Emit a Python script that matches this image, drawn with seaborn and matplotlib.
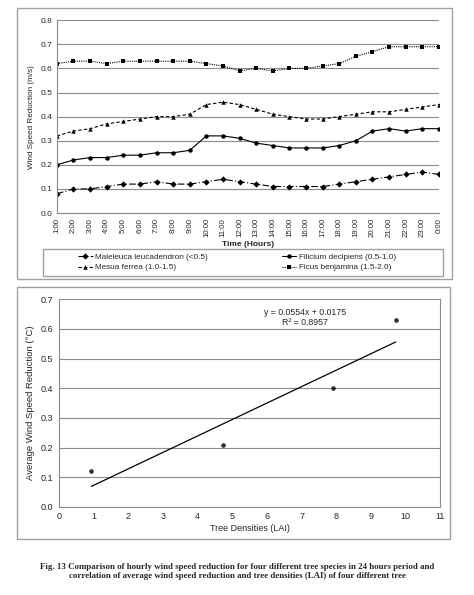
import numpy as np
import pandas as pd
import matplotlib
matplotlib.use("Agg")
import matplotlib.pyplot as plt
import seaborn as sns
from matplotlib.patches import Rectangle

# -------------------------------
# data
# -------------------------------
hours = ["1:00", "2:00", "3:00", "4:00", "5:00", "6:00", "7:00", "8:00", "9:00", "10:00",
         "11:00", "12:00", "13:00", "14:00", "15:00", "16:00", "17:00", "18:00", "19:00",
         "20:00", "21:00", "22:00", "23:00", "0:00"]

maleleuca = [0.08, 0.10, 0.10, 0.11, 0.12, 0.12, 0.13, 0.12, 0.12, 0.13, 0.14, 0.13,
             0.12, 0.11, 0.11, 0.11, 0.11, 0.12, 0.13, 0.14, 0.15, 0.16, 0.17, 0.16]
filicium = [0.20, 0.22, 0.23, 0.23, 0.24, 0.24, 0.25, 0.25, 0.26, 0.32, 0.32, 0.31,
            0.29, 0.28, 0.27, 0.27, 0.27, 0.28, 0.30, 0.34, 0.35, 0.34, 0.35, 0.35]
mesua = [0.32, 0.34, 0.35, 0.37, 0.38, 0.39, 0.40, 0.40, 0.41, 0.45, 0.46, 0.45,
         0.43, 0.41, 0.40, 0.39, 0.39, 0.40, 0.41, 0.42, 0.42, 0.43, 0.44, 0.45]
ficus = [0.62, 0.63, 0.63, 0.62, 0.63, 0.63, 0.63, 0.63, 0.63, 0.62, 0.61, 0.59,
         0.60, 0.59, 0.60, 0.60, 0.61, 0.62, 0.65, 0.67, 0.69, 0.69, 0.69, 0.69]

species = ["Maleleuca leucadendron (<0.5)", "Filicium decipiens (0.5-1.0)",
           "Mesua ferrea (1.0-1.5)", "Ficus benjamina (1.5-2.0)"]

lai = [0.93, 4.72, 7.9, 9.72]
avg_reduction = [0.12, 0.21, 0.40, 0.63]

# long table for seaborn
rows = []
for name, vals in zip(species, [maleleuca, filicium, mesua, ficus]):
    for i, v in enumerate(vals):
        rows.append({"hour": i, "value": v, "species": name})
df = pd.DataFrame(rows)

scatter_df = pd.DataFrame({"lai": lai, "reduction": avg_reduction})

# -------------------------------
# style
# -------------------------------
sns.set_style("white")
plt.rcParams["font.family"] = ["Liberation Sans", "DejaVu Sans"]
grey = "#8c8c8c"
frame_col = "#a0a0a0"

fig = plt.figure(figsize=(4.74, 5.95), dpi=100)

# panel frames + legend box
for (x0, y0, w, h) in [(0.036, 0.531, 0.918, 0.455), (0.036, 0.094, 0.913, 0.424),
                       (0.091, 0.536, 0.844, 0.045)]:
    fig.patches.append(Rectangle((x0, y0), w, h, transform=fig.transFigure,
                                 fill=False, edgecolor=frame_col, lw=1.0))

# -------------------------------
# top: hourly reduction
# -------------------------------
ax1 = fig.add_axes([0.120, 0.642, 0.806, 0.324])
dashes = {species[0]: (6, 2, 1, 2), species[1]: "",
          species[2]: (3, 2), species[3]: (1, 1)}
markers = {species[0]: "D", species[1]: "o", species[2]: "^", species[3]: "s"}
sns.lineplot(data=df, x="hour", y="value", hue="species", style="species",
             palette=["black"] * 4, dashes=dashes, markers=markers,
             markersize=3.2, linewidth=0.8, markeredgewidth=0, ax=ax1)

ax1.set_xlim(0, 23)
ax1.set_ylim(0, 0.8)
ax1.set_xticks(range(len(hours)))
ax1.set_xticklabels(hours, rotation=90, fontsize=5.6)
ax1.set_yticks(np.arange(0, 0.81, 0.1))
ax1.set_yticklabels([f"{v:.1f}" for v in np.arange(0, 0.81, 0.1)], fontsize=6)
ax1.yaxis.grid(True, color=grey, lw=0.8)
ax1.set_xlabel("Time (Hours)", fontsize=6, fontweight="bold", labelpad=3)
ax1.set_ylabel("Wind Speed Reduction (m/s)", fontsize=5.9, labelpad=4)
ax1.tick_params(axis="both", length=2, width=0.6, pad=1.5, color=grey)
for s in ["top", "right"]:
    ax1.spines[s].set_visible(False)
for s in ["left", "bottom"]:
    ax1.spines[s].set_color(grey)
    ax1.spines[s].set_linewidth(0.8)

handles, labels = ax1.get_legend_handles_labels()
ax1.get_legend().remove()
order = [0, 2, 1, 3]
fig.legend([handles[i] for i in order], [labels[i] for i in order],
           loc="center", bbox_to_anchor=(237 / 474, 1 - 262.5 / 595),
           ncol=2, fontsize=5.9, frameon=False, handlelength=1.8,
           borderpad=0.2, labelspacing=0.3, columnspacing=9.0, handletextpad=0.3)

# -------------------------------
# bottom: LAI correlation
# -------------------------------
ax2 = fig.add_axes([0.1245, 0.148, 0.804, 0.349])
sns.regplot(data=scatter_df, x="lai", y="reduction", ci=None, truncate=True, ax=ax2,
            scatter_kws={"s": 11, "color": "black", "linewidths": 0},
            line_kws={"color": "black", "lw": 0.9})
ax2.set_xlim(0, 11)
ax2.set_ylim(0, 0.7)
ax2.set_xticks(range(0, 12))
ax2.set_xticklabels([str(i) for i in range(0, 12)], fontsize=6.5)
ax2.set_yticks(np.arange(0, 0.71, 0.1))
ax2.set_yticklabels([f"{v:.1f}" for v in np.arange(0, 0.71, 0.1)], fontsize=6.5)
ax2.yaxis.grid(True, color=grey, lw=0.8)
ax2.set_xlabel("Tree Densities (LAI)", fontsize=6.5, labelpad=2)
ax2.set_ylabel("Average Wind Speed Reduction (°C)", fontsize=6.8, labelpad=4)
ax2.tick_params(axis="both", length=2, width=0.6, pad=2, color=grey)
ax2.spines["top"].set_visible(False)
for s in ["left", "bottom", "right"]:
    ax2.spines[s].set_color(grey)
    ax2.spines[s].set_linewidth(0.8)
ax2.text(7.1, 0.656, "y = 0.0554x + 0.0175", ha="center", va="center", fontsize=6.3)
ax2.text(7.1, 0.622, "R² = 0.8957", ha="center", va="center", fontsize=6.3)

# caption
fig.text(0.5, 0.040, "Fig. 13 Comparison of hourly wind speed reduction for four different tree species in 24 hours period and\n"
         "correlation of average wind speed reduction and tree densities (LAI) of four different tree",
         ha="center", va="center", fontsize=6.4, fontweight="bold",
         family=["Liberation Serif", "DejaVu Serif"], linespacing=1.15)

fig.savefig("out.png", dpi=100)
